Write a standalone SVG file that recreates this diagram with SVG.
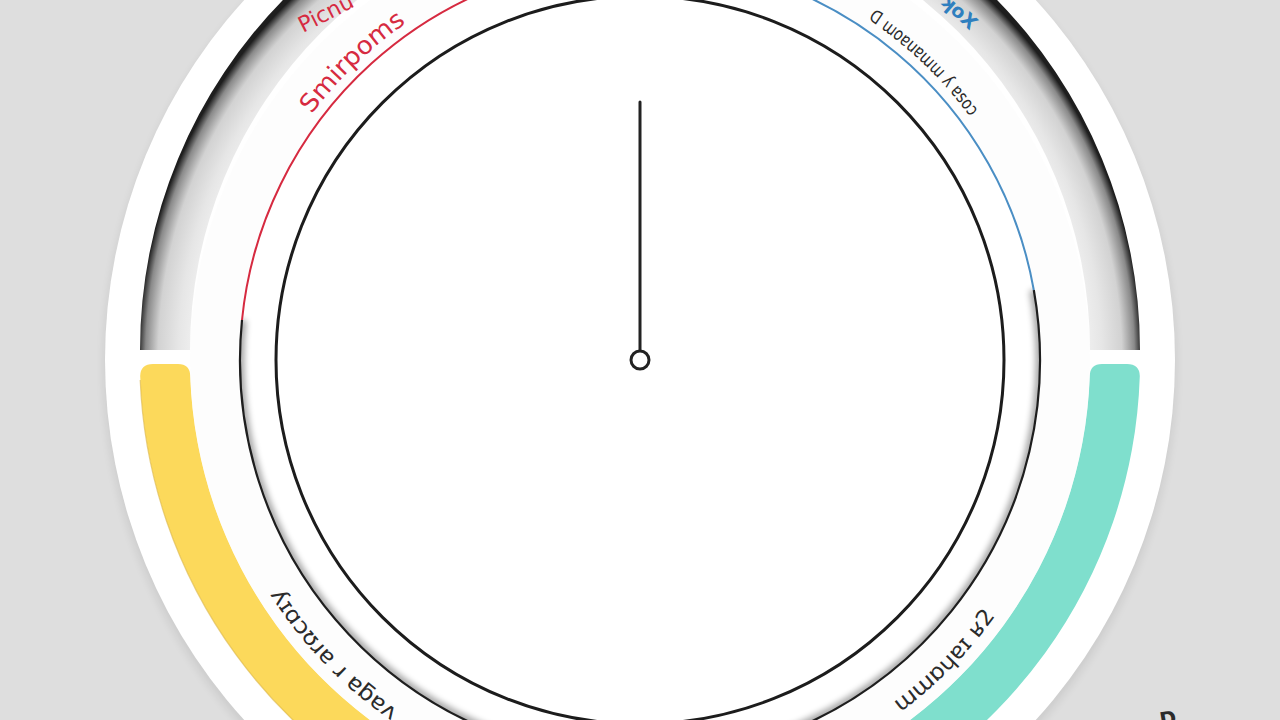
<svg xmlns="http://www.w3.org/2000/svg" width="1280" height="720" viewBox="0 0 1280 720">
  <defs>
    <radialGradient id="trackGrad" cx="640" cy="360" r="502" gradientUnits="userSpaceOnUse">
      <stop offset="0.88" stop-color="#f2f2f2"/>
      <stop offset="0.92" stop-color="#e6e6e6"/>
      <stop offset="0.96" stop-color="#d2d2d2"/>
      <stop offset="0.985" stop-color="#8a8a8a"/>
      <stop offset="1" stop-color="#1e1e1e"/>
    </radialGradient>
    <filter id="blur6" x="-20%" y="-20%" width="140%" height="140%">
      <feGaussianBlur stdDeviation="5"/>
    </filter>
    <filter id="blur3" x="-20%" y="-20%" width="140%" height="140%">
      <feGaussianBlur stdDeviation="3"/>
    </filter>
    <clipPath id="insideDisc">
      <circle cx="640" cy="360" r="400"/>
    </clipPath>
    <path id="arcBL" d="M 260.7 579 A 438 438 0 0 0 434.4 746.7"/>
    <path id="arcBR" d="M 884.9 723.1 A 438 438 0 0 0 1019.3 579"/>
    <path id="arcTR" d="M 845 4.9 A 410 410 0 0 1 995.1 155"/>
    <path id="arcTL" d="M 300.1 130.7 A 410 410 0 0 1 435 4.9"/>
    <path id="arcTR2" d="M 907.3 -21.7 A 466 466 0 0 1 1021.7 92.7"/>
    <style>
      .lbl { font-family: "DejaVu Sans", "Liberation Sans", sans-serif; }
      .dark { fill: #2b2b2b; }
      .red { fill: #d62a40; }
      .blue { fill: #2f7fbf; }
      .ink { fill: none; stroke: #1c1c1c; stroke-width: 3; }
    </style>
  </defs>

  <rect width="1280" height="720" fill="#dedede"/>

  <g id="outer-ring">
    <circle cx="640" cy="366" r="536" fill="#000" opacity="0.08" filter="url(#blur6)"/>
    <circle cx="640" cy="360" r="535" fill="#ffffff"/>
  </g>

  <g id="track">
    <path d="M 140 350 A 500 500 0 0 1 1140 350 L 1090 350 A 450 450 0 0 0 190 350 Z" fill="url(#trackGrad)"/>
  </g>

  <g id="yellow-segment">
    <path d="M 140.2 376 Q 140.5 364 153 364 L 178 364 Q 190 364 190.2 376 A 450 450 0 0 0 486.1 782.9 L 469 829.8 A 500 500 0 0 1 140.2 376 Z" fill="#fcd95b"/>
    <path d="M 140.2 380 A 500 500 0 0 0 469 829.8" fill="none" stroke="#d9b03a" stroke-width="1.2" opacity="0.6"/>
  </g>

  <g id="teal-segment">
    <path d="M 1139.8 376 Q 1139.5 364 1127 364 L 1102 364 Q 1090 364 1089.8 376 A 450 450 0 0 1 793.9 782.9 L 811 829.8 A 500 500 0 0 0 1139.8 376 Z" fill="#7fdfcd"/>
  </g>

  <g id="inner-ring">
    <circle cx="640" cy="360" r="450" fill="#fbfbfb" opacity="0.6"/>
    <circle cx="640" cy="360" r="400" fill="#ffffff"/>
    <g clip-path="url(#insideDisc)">
      <path d="M 242 320 A 400 400 0 1 0 1033.8 290" fill="none" stroke="#000" stroke-width="9" opacity="0.35" filter="url(#blur3)"/>
    </g>
    <path d="M 242 320 A 400 400 0 1 0 1033.8 290" fill="none" stroke="#1e1e1e" stroke-width="2.2"/>
    <path d="M 242 320 A 400 400 0 0 1 640 -40" fill="none" stroke="#d62a40" stroke-width="2"/>
    <path d="M 640 -40 A 400 400 0 0 1 1033.8 290" fill="none" stroke="#4a8ec4" stroke-width="2"/>
  </g>

  <g id="clock-face">
    <circle cx="640" cy="360" r="364" fill="#ffffff" class="ink"/>
  </g>

  <g id="connectors">
    <line x1="640" y1="102" x2="640" y2="350" stroke="#222" stroke-width="3" stroke-linecap="round"/>
    <circle cx="640" cy="360" r="9" fill="#ffffff" stroke="#222" stroke-width="3"/>
  </g>

  <g id="label-red-top">
    <text class="lbl red" font-size="22" transform="translate(303,33) rotate(-27)">Picnu</text>
  </g>
  <g id="label-red">
    <text class="lbl red" font-size="25" textLength="132" lengthAdjust="spacingAndGlyphs"><textPath href="#arcTL" startOffset="20">Smirpoms</textPath></text>
  </g>
  <g id="label-blue">
    <text class="lbl blue" font-size="19" font-weight="bold"><textPath href="#arcTR2" startOffset="40">ʞoX</textPath></text>
  </g>
  <g id="label-top-right">
    <text class="lbl dark" font-size="18" textLength="142" lengthAdjust="spacingAndGlyphs"><textPath href="#arcTR" startOffset="27">ᗡ ɯoɐuɐɯɯ ʎ ɐsoɔ</textPath></text>
  </g>
  <g id="label-bottom-left">
    <text class="lbl dark" font-size="22" textLength="176" lengthAdjust="spacingAndGlyphs"><textPath href="#arcBL" startOffset="18">ʎɪɑɔʊɹɐ ɹ ɐƃɐʌ</textPath></text>
  </g>
  <g id="label-bottom-right">
    <text class="lbl dark" font-size="22" textLength="136" lengthAdjust="spacingAndGlyphs"><textPath href="#arcBR" startOffset="19">ɯɯɒɥɐɪ ʁ2</textPath></text>
  </g>
  <g id="label-corner">
    <text class="lbl dark" font-size="20" font-weight="bold" transform="translate(1161,727) rotate(-10)">D</text>
  </g>
</svg>
